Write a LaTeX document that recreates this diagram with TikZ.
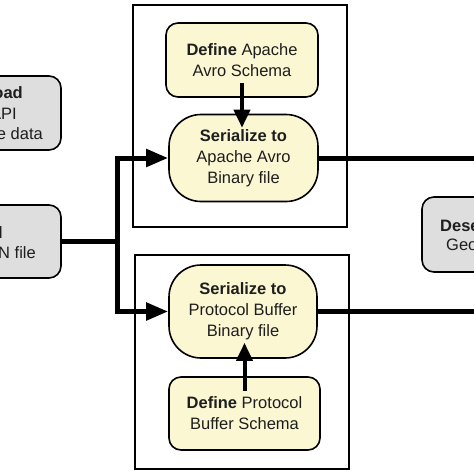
\documentclass[tikz,border=0pt]{standalone}
\usepackage{fontspec}
\setmainfont{Liberation Sans}
\usetikzlibrary{arrows.meta}
\definecolor{boxy}{HTML}{FBF7D3}
\definecolor{boxg}{HTML}{DEDEDE}
\definecolor{txt}{HTML}{1E1E1E}
\tikzset{
  every node/.style={font=\fontsize{16.5}{21}\selectfont, text=txt},
  ybox/.style={draw=black, line width=1.6pt, fill=boxy, rounded corners=12pt, align=center, inner sep=0pt},
  sbox/.style={ybox, rounded corners=32pt},
  gbox/.style={draw=black, line width=1.6pt, fill=boxg, rounded corners=12pt, inner sep=0pt},
  frag/.style={inner sep=0pt, anchor=base east},
  conn/.style={line width=5pt},
  bigarr/.style={-{Triangle[length=22pt,width=17pt]}},
  smallarr/.style={line width=4pt, -{Triangle[length=18pt,width=16pt]}},
  frame/.style={draw=black, line width=2pt}
}
\begin{document}
\begin{tikzpicture}[x=1pt,y=-1pt]
\useasboundingbox (0,0) rectangle (474,474);
\clip (0,0) rectangle (474,474);
\fill[white] (0,0) rectangle (474,474);
\draw[frame] (133,5) rectangle (347,227);
\draw[frame] (135,255) rectangle (349,469);
\node[gbox, minimum width=91pt, minimum height=74pt] (la) at (15.5,113) {};
\node[gbox, minimum width=91pt, minimum height=73pt] (lb) at (15.5,241.5) {};
\node[gbox, minimum width=108pt, minimum height=75pt] (des) at (476,234.5) {};
\node[ybox, minimum width=152pt, minimum height=74pt] (da) at (242,60) {\textbf{Define} Apache\\Avro Schema};
\node[sbox, minimum width=149pt, minimum height=87pt] (sa) at (243.5,158) {\textbf{Serialize to}\\Apache Avro\\Binary file};
\node[sbox, minimum width=148pt, minimum height=93pt] (sp) at (243,311.5) {\textbf{Serialize to}\\Protocol Buffer\\Binary file};
\node[ybox, minimum width=151pt, minimum height=73pt] (dp) at (244.5,413.5) {\textbf{Define} Protocol\\Buffer Schema};
\node[frag] (la1) at (23,98) {\textbf{oad}};
\node[frag] (la2) at (17,119) {API};
\node[frag] (la3) at (43,139) {e data};
\node[frag] (lb1) at (3,238) {\textbf{l}};
\node[frag] (lb2) at (36,258) {N file};
\node[frag, anchor=base west] (d1) at (440,231) {\textbf{Dese}};
\node[frag, anchor=base west] (d2) at (446,250) {Geo};
\path (lb.east) ++(56,0) coordinate (jl);
\coordinate (outr) at (490,0);
\draw[conn] (lb.east) -- (jl);
\draw[conn,bigarr] (jl) |- (sa.west);
\draw[conn,bigarr] (jl) |- (sp.west);
\draw[conn] (sa.east) -- (sa.east -| outr);
\draw[conn] (sp.east) -- (sp.east -| outr);
\draw[smallarr] ([yshift=15pt]da.south) -- ([yshift=-14pt]da.south |- sa.north);
\draw[smallarr] ([yshift=-15pt]dp.north) -- ([yshift=16pt]dp.north |- sp.south);
\end{tikzpicture}
\end{document}
